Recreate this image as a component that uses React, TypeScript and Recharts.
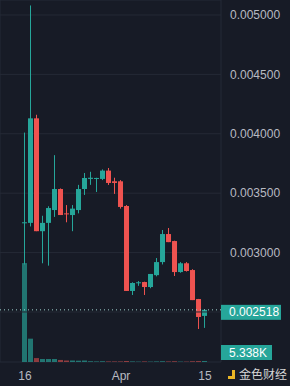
import React from 'react';
import { ComposedChart, Bar, XAxis, YAxis, CartesianGrid, ReferenceLine, Cell } from 'recharts';

const days = [0,1,2,3,4,5,6,7,8,9,10,11,12,13,14,15,16,17,18,19,20,21,22,23,24,25,26,27,28,29,30];
const opens = [0.00325,0.00325,0.00413,0.00318,0.00325,0.003358,0.003535,0.00333,0.003316,0.003358,0.003535,0.00362,0.00362,0.00362,0.00369,0.0036,0.0036,0.003392,0.002677,0.002744,0.002752,0.00271,0.00281,0.00292,0.003156,0.003097,0.002836,0.00291,0.002853,0.002609,0.002467];
const highs = [0.00401,0.00508,0.00416,0.00331,0.00339,0.00382,0.00354,0.0034,0.0034,0.00357,0.00367,0.00368,0.00363,0.0037,0.003712,0.00363,0.00361,0.0034,0.00275,0.00276,0.002755,0.00282,0.002954,0.00319,0.003207,0.0031,0.00292,0.00292,0.00286,0.00261,0.00252];
const lows = [0.0029,0.00322,0.00318,0.00291,0.00289,0.0033,0.003316,0.003255,0.00318,0.00333,0.003485,0.00357,0.00351,0.00361,0.003569,0.003494,0.00337,0.002677,0.002643,0.00272,0.002643,0.0027,0.0028,0.0029,0.003088,0.002803,0.00283,0.00284,0.0026,0.002357,0.002366];
const closes = [0.003255,0.00413,0.00318,0.00325,0.003375,0.003535,0.003316,0.003325,0.00337,0.003535,0.003628,0.00363,0.003628,0.00369,0.003586,0.003586,0.003384,0.002677,0.002744,0.00275,0.00271,0.00282,0.00292,0.003156,0.003088,0.002836,0.00291,0.002845,0.0026,0.002458,0.002518];
const volumes = [530,125,21,16,16,16,11,8,8,7,8,4,3,4,3,3,3,5,3,2,3,2,3,4,3,4,2,2,4,5,5.338];

const xTicks = [0, 16, 30];
const xTickLabels = ['16', 'Apr', '15'];
const priceTicks = [0.003, 0.0035, 0.004, 0.0045, 0.005];
const extraGridPrices = [0.0025];
const lastPrice = 0.002518;
const lastVolume = 5.338;
const lastVolumeLabel = '5.338K';

const UP = '#26a69a';
const DOWN = '#ef5350';
const BG = '#171b26';
const GRID = '#252a36';
const TEXT = '#b7bac2';
const FONT = 'Liberation Sans, Arial, sans-serif';

const data = days.map((d, i) => ({
  day: d,
  open: opens[i],
  high: highs[i],
  low: lows[i],
  close: closes[i],
  range: [lows[i], highs[i]],
  volume: volumes[i],
  up: closes[i] >= opens[i],
}));

const Candle = (props: any) => {
  const { x, y, width, height, payload } = props;
  if (!payload || height == null) return null;
  const { open, close, high, low, up } = payload;
  const color = up ? UP : DOWN;
  const ppu = height / (high - low || 1);
  const top = Math.max(open, close);
  const bot = Math.min(open, close);
  const bodyY = y + (high - top) * ppu;
  const bodyH = Math.max(1, (top - bot) * ppu);
  const cx = x + width / 2;
  return (
    <g>
      <line x1={cx} x2={cx} y1={y} y2={y + height} stroke={color} strokeWidth={1} />
      <rect x={x} y={bodyY} width={width} height={bodyH} fill={color} />
    </g>
  );
};

const makeTimeLabel = (text: string) => (props: any) => {
  const vb = props.viewBox || {};
  const x = vb.x || 0;
  const bottom = (vb.y || 0) + (vb.height || 0);
  return (
    <text x={x + 1} y={bottom + 18} textAnchor="middle" fill={TEXT} fontSize={12} fontFamily={FONT}>
      {text}
    </text>
  );
};

const PriceBadge = (props: any) => {
  const vb = props.viewBox || {};
  const x0 = (vb.x || 0) + (vb.width || 0);
  const y = vb.y || 0;
  return (
    <g>
      <rect x={x0} y={y - 5} width={60} height={15} fill={UP} />
      <text x={x0 + 8} y={y + 6.5} fill="#ffffff" fontSize={12} fontFamily={FONT}>
        {lastPrice.toFixed(6)}
      </text>
    </g>
  );
};

const VolBadge = (props: any) => {
  const vb = props.viewBox || {};
  const x0 = (vb.x || 0) + (vb.width || 0);
  const y = vb.y || 0;
  return (
    <g>
      <rect x={x0} y={y - 16} width={51} height={15} fill={UP} />
      <text x={x0 + 8} y={y - 4.5} fill="#ffffff" fontSize={12} fontFamily={FONT}>
        {lastVolumeLabel}
      </text>
    </g>
  );
};

export default function App() {
  return (
    <div style={{ position: 'absolute', left: 0, top: 0, width: 290, height: 386, background: BG, overflow: 'hidden' }}>
      <ComposedChart
        width={290}
        height={386}
        data={data}
        margin={{ top: 0, right: 0, bottom: 0, left: 0 }}
        style={{ fontFamily: FONT }}
      >
        <CartesianGrid xAxisId="x" yAxisId="price" stroke={GRID} strokeWidth={1} />
        <XAxis
          xAxisId="x"
          dataKey="day"
          type="number"
          domain={[-4, 32.83]}
          allowDataOverflow
          ticks={xTicks}
          height={24}
          stroke="#c5c8d0"
          tickLine={false}
          tick={false}
          interval={0}
        />
        <XAxis xAxisId="vol" dataKey="day" type="number" domain={[-4, 32.83]} allowDataOverflow hide />
        <YAxis
          yAxisId="price"
          orientation="right"
          width={69}
          domain={[0.002079, 0.005126]}
          allowDataOverflow
          ticks={priceTicks}
          tickFormatter={(v: number) => v.toFixed(6)}
          axisLine={false}
          tickLine={false}
          tickMargin={3}
          tick={{ fill: TEXT, fontSize: 12, textAnchor: 'start' }}
          interval={0}
        />
        <YAxis yAxisId="vol" hide domain={[0, 1940]} allowDataOverflow />
        {extraGridPrices.map((p) => (
          <ReferenceLine key={p} yAxisId="price" xAxisId="x" y={p} stroke={GRID} />
        ))}
        <Bar xAxisId="vol" yAxisId="vol" dataKey="volume" barSize={5} isAnimationActive={false}>
          {data.map((d, i) => (
            <Cell key={i} fill={d.up ? 'rgba(38,166,154,0.65)' : 'rgba(239,83,80,0.55)'} />
          ))}
        </Bar>
        <Bar xAxisId="x" yAxisId="price" dataKey="range" barSize={5} shape={Candle} isAnimationActive={false} />
        {xTicks.map((t, i) => (
          <ReferenceLine
            key={'t' + t}
            xAxisId="x"
            yAxisId="price"
            x={t}
            stroke="none"
            label={makeTimeLabel(xTickLabels[i])}
          />
        ))}
        <ReferenceLine
          yAxisId="price"
          xAxisId="x"
          y={lastPrice}
          stroke="#9fd3ce"
          strokeDasharray="1 3"
          label={<PriceBadge />}
        />
        <ReferenceLine yAxisId="vol" xAxisId="vol" y={lastVolume} stroke="none" label={<VolBadge />} />
      </ComposedChart>
      <div style={{ position: 'absolute', left: 228, top: 367, display: 'flex', alignItems: 'center', gap: 4 }}>
        <div style={{ width: 7, height: 9, borderRight: '3px solid #e8b526', borderBottom: '3px solid #e8b526', boxSizing: 'border-box' }} />
        <span style={{ color: '#d5d5d5', fontSize: 12, fontFamily: 'Noto Sans CJK SC, sans-serif', lineHeight: '14px' }}>金色财经</span>
      </div>
    </div>
  );
}
